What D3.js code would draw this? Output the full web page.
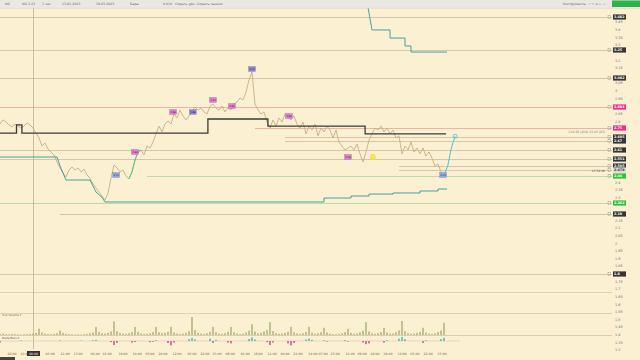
<!DOCTYPE html>
<html>
<head>
<meta charset="utf-8">
<script src="https://cdn.jsdelivr.net/npm/d3@7"></script>
<style>
body{margin:0;background:#fcf0d2;overflow:hidden;}
svg{display:block;font-family:"DejaVu Sans",sans-serif;}
</style>
</head>
<body>
<svg id="chart" width="640" height="360"></svg>
<script>
// closes, one per bar (bar index 0..148)
var closes = [2.780,2.807,2.793,2.774,2.761,2.780,2.767,2.754,2.767,2.787,2.774,2.754,2.721,2.689,2.636,2.656,2.616,2.597,2.577,2.531,
  2.492,2.459,2.433,2.479,2.498,2.479,2.492,2.466,2.485,2.446,2.426,2.387,2.361,2.334,2.308,2.282,2.328,2.426,2.511,2.492,
  2.466,2.479,2.439,2.420,2.466,2.544,2.597,2.610,2.577,2.636,2.623,2.662,2.715,2.767,2.728,2.780,2.800,2.780,2.846,2.820,
  2.872,2.833,2.807,2.833,2.859,2.892,2.872,2.885,2.859,2.846,2.898,2.911,2.885,2.872,2.898,2.859,2.885,2.872,2.911,2.925,
  2.951,2.938,2.990,3.069,3.121,2.911,2.872,2.846,2.859,2.793,2.754,2.807,2.767,2.820,2.793,2.846,2.826,2.807,2.833,2.780,
  2.754,2.793,2.715,2.767,2.741,2.780,2.702,2.754,2.728,2.767,2.741,2.689,2.741,2.662,2.636,2.610,2.623,2.636,2.610,2.649,
  2.584,2.531,2.597,2.675,2.715,2.754,2.741,2.767,2.728,2.754,2.715,2.741,2.689,2.702,2.584,2.636,2.610,2.662,2.597,2.623,
  2.584,2.623,2.570,2.597,2.557,2.505,2.518,2.466,2.446];

var volume = [6,8,5,4,6,5,4,3,4,5,6,8,12,35,14,8,6,5,7,10,25,12,7,5,4,3,4,3,4,6,9,14,45,18,10,8,12,20,75,22,12,8,7,10,16,45,
  18,9,6,7,10,17,45,15,10,12,18,45,14,8,6,8,12,22,100,28,12,8,6,10,18,45,16,8,7,10,18,45,15,9,6,8,14,24,60,20,10,12,20,28,72,
  22,10,7,8,12,18,45,16,9,7,10,17,45,14,8,10,16,40,14,8,5,4,6,9,16,35,12,7,9,15,24,72,20,9,7,10,16,40,14,8,9,16,26,78,22,10,
  7,8,12,17,40,14,8,7,10,18,26,68];

var deltaIdx = [0,7,20,27,31,32,37,38,39,44,45,50,51,52,56,57,58,63,64,65,70,71,72,76,77,83,84,85,89,90,91,96,97,98,102,103,104,108,109,115,116,121,122,123,128,129,133,134,135,141,142,147,148];
var deltaVal = [-8,3,3,2,4,6,-6,-20,-10,-8,-5,-6,-4,4,-10,-22,-8,10,16,8,12,-10,6,-8,-12,10,18,8,-6,-20,-8,-12,-22,-10,8,12,6,4,-3,5,-3,-8,-16,-12,-8,4,12,20,10,-10,4,10,16];

// trailing stop lines
var blackIdx = [0,5.5,5.5,7.3,7.3,69.3,69.3,89.3,89.3,121.7,121.7,148.7];
var blackVal = [2.721,2.721,2.774,2.774,2.721,2.721,2.813,2.813,2.767,2.767,2.715,2.715];
var lowIdx = [0,19,20,21,22,30,31,32,34,35,108,108,117,117,123,123,131,131,140,140,146,146,149];
var lowVal = [2.564,2.564,2.505,2.459,2.413,2.413,2.374,2.334,2.30,2.269,2.269,2.295,2.295,2.308,2.308,2.321,2.321,2.328,2.328,2.341,2.341,2.354,2.354];
var upIdx = [122,124,130,130,135,135,137,137,149];
var upVal = [3.62,3.397,3.397,3.344,3.344,3.292,3.292,3.252,3.252];
var projIdx = [148,149.3,150.3,151,151.7];
var projVal = [2.446,2.51,2.61,2.66,2.70];
var riseIdx = [43,44,45,46,47];

// horizontal levels
var levelVal  = [3.482,3.266,3.082,2.892,2.754,2.695,2.669,2.610,2.551,2.505,2.479,2.440,2.262,2.190,1.800,1.680,1.540,1.400];
var levelFrom = [0,0,0,0,85,95,95,0,0,133,133,49,0,20,0,0,0,0];
var levelKind = ["dark","dark","dark","pink","pink","dark","dark","dark","dark","dark","light","green","green","dark","dark","none","none","none"];
var levelText = ["3.482","3.25","3.082","2.893","2.75","2.695","2.67","2.61","2.551","2.505","2.479","2.44","2.262","2.19","1.8","","",""];

// signal markers
var markIdx  = [38.7,45,57.7,64.3,71,77.3,84,96.3,116,147.7];
var markVal  = [2.446,2.597,2.859,2.859,2.938,2.898,3.141,2.833,2.564,2.446];
var markKind = ["blue","pink","pink","violet","pink","pink","violet","pink","pink","blue"];
var markText = ["2.44","2.60","2.86","2.86","2.94","2.90","3.14","2.83","2.56","2.44"];

var priceTicks = [3.55,3.5,3.45,3.4,3.35,3.3,3.25,3.2,3.15,3.1,3.05,3,2.95,2.9,2.85,2.8,2.75,2.7,2.65,2.6,2.55,2.5,2.45,2.4,2.35,2.3,2.25,2.2,2.15,2.1,2.05,2,1.95,1.9,1.85,1.8,1.75,1.7,1.65,1.6,1.55,1.5,1.45,1.4,1.35,1.3];

var timeIdx = [4,8.3,16.7,21.7,26,31.7,35.7,41,45.7,50,54.3,59,64,68.3,72.3,76.7,81.7,86,90.7,95,99.3,104.3,107.7,111.7,116.7,120.7,125,129.3,134,138.3,142.7,147.3];
var timeText = ["02:00","16:00","05:00","21:00","13:00","06:00","01:00","19:00","10:00","03:00","20:00","12:00","05:00","22:00","15:00","08:00","01:00","18:00","11:00","04:00","21:00","14:00","07:00","23:00","16:00","09:00","02:00","19:00","12:00","05:00","22:00","15:00"];

var toolText = ["NG","NG-3.23","1 час","13.01.2023","19.03.2023","Бары","0.010","Скрыть уро...","Скрыть панели"];

var svg = d3.select("#chart");
var W = 640, H = 360, plotR = 612;

var x = d3.scaleLinear().domain([0,204]).range([0,plotR]);
var y = d3.scaleLinear().domain([1.3,3.55]).range([349.75,6.625]);
var vy = d3.scaleLinear().domain([0,100]).range([335,317]);
var dy = d3.scaleLinear().domain([-25,25]).range([346,336]);

svg.append("rect").attr("width",W).attr("height",H).attr("fill","#fcf0d2");

svg.append("defs").append("clipPath").attr("id","plot")
  .append("rect").attr("x",0).attr("y",8).attr("width",plotR).attr("height",341);
var g = svg.append("g").attr("clip-path","url(#plot)");

var lineColor = {dark:"#cbbd9e",pink:"#e7a59a",green:"#a9d79a",light:"#cbbd9e",none:"#d8cba8"};
var boxColor = {dark:"#353535",pink:"#ec2f8a",green:"#2ec236",light:"#d9d9d9"};

// levels
g.selectAll(".lvl").data(levelVal).enter().append("line")
  .attr("x1",function(d,i){return x(levelFrom[i]);})
  .attr("x2",plotR)
  .attr("y1",function(d){return Math.round(y(d))+0.5;})
  .attr("y2",function(d){return Math.round(y(d))+0.5;})
  .attr("stroke",function(d,i){return lineColor[levelKind[i]];})
  .attr("stroke-width",0.8);

// crosshair
g.append("line").attr("x1",33.5).attr("x2",33.5).attr("y1",8).attr("y2",350)
  .attr("stroke","#b9ab8c").attr("stroke-width",0.7);

// volume
g.selectAll(".vol").data(volume).enter().append("rect")
  .attr("x",function(d,i){return x(i)-0.6;})
  .attr("y",function(d){return vy(d);})
  .attr("width",1.2)
  .attr("height",function(d){return vy(0)-vy(d);})
  .attr("fill","#9ba56c");
svg.append("text").attr("x",2).attr("y",316).attr("font-size",2.8).attr("fill","#555").text("Tick Volume 7");
svg.append("line").attr("x1",0).attr("x2",plotR).attr("y1",335.5).attr("y2",335.5).attr("stroke","#d8cba8").attr("stroke-width",0.6);
svg.append("text").attr("x",2).attr("y",339).attr("font-size",2.8).attr("fill","#555").text("Delta Bars 2");

// delta
g.append("line").attr("x1",0).attr("x2",460).attr("y1",dy(0)).attr("y2",dy(0)).attr("stroke","#c9c0b0").attr("stroke-width",0.5);
g.selectAll(".dl").data(deltaVal).enter().append("rect")
  .attr("x",function(d,i){return x(deltaIdx[i])-0.7;})
  .attr("y",function(d){return Math.min(dy(d),dy(0));})
  .attr("width",1.4)
  .attr("height",function(d){return Math.abs(dy(d)-dy(0));})
  .attr("fill",function(d){return d>0?"#3db7b9":"#d2409a";});

// price line
var line = d3.line().x(function(d){return x(d[0]);}).y(function(d){return y(d[1]);});
var pts = closes.map(function(c,i){return [i,c];});
g.append("path").attr("d",line(pts)).attr("fill","none").attr("stroke","#c2b183").attr("stroke-width",0.9);
g.append("path").attr("d",line(riseIdx.map(function(i){return [i,closes[i]];})))
  .attr("fill","none").attr("stroke","#53c58f").attr("stroke-width",1);

function pairs(a,b){return a.map(function(v,i){return [v,b[i]];});}
g.append("path").attr("d",line(pairs(blackIdx,blackVal))).attr("fill","none").attr("stroke","#3a3a3a").attr("stroke-width",1.3);
g.append("path").attr("d",line(pairs(lowIdx,lowVal))).attr("fill","none").attr("stroke","#2f9b9a").attr("stroke-width",0.9);
g.append("path").attr("d",line(pairs(upIdx,upVal))).attr("fill","none").attr("stroke","#2f9b9a").attr("stroke-width",0.9);
g.append("path").attr("d",line(pairs(projIdx,projVal))).attr("fill","none").attr("stroke","#45c6d6").attr("stroke-width",1);
g.append("circle").attr("cx",x(projIdx[4])).attr("cy",y(projVal[4])).attr("r",2).attr("fill","none").attr("stroke","#45c6d6").attr("stroke-width",0.8);

// cursor highlight
g.append("circle").attr("cx",x(124.3)).attr("cy",y(2.564)).attr("r",3).attr("fill","#f4e23c").attr("opacity",0.85);

// markers
var markFill = {blue:"#86aee0",pink:"#e77ccb",violet:"#8f86d6"};
var mk = g.selectAll(".mk").data(markVal).enter().append("g")
  .attr("transform",function(d,i){return "translate("+x(markIdx[i])+","+y(d)+")";});
mk.append("rect").attr("x",-3.5).attr("y",-2.5).attr("width",7).attr("height",5)
  .attr("fill",function(d,i){return markFill[markKind[i]];}).attr("stroke","#7a6aa8").attr("stroke-width",0.3);
mk.append("text").attr("text-anchor","middle").attr("y",1).attr("font-size",2.4).attr("fill","#222")
  .text(function(d,i){return markText[i];});

// right price axis: skip ticks hidden behind level boxes
var boxed = levelVal.filter(function(d,i){return levelText[i]!=="";});
var freeTicks = priceTicks.filter(function(t){
  return boxed.every(function(b){return Math.abs(y(t)-y(b))>4.2;});
});
var ax = svg.append("g").attr("transform","translate(614,0)")
  .call(d3.axisRight(y).tickValues(freeTicks).tickSize(0).tickPadding(1).tickFormat(d3.format("~g")));
ax.select(".domain").remove();
ax.selectAll("text").attr("font-size",3.4).attr("fill","#6b6b6b").attr("font-family","DejaVu Sans");

var bx = svg.selectAll(".bx").data(boxed).enter().append("g")
  .attr("transform",function(d){return "translate(613,"+Math.round(y(d))+")";});
var boxedKind = levelKind.filter(function(k,i){return levelText[i]!=="";});
var boxedText = levelText.filter(function(t){return t!=="";});
bx.append("rect").attr("x",0).attr("y",-2.6).attr("width",13).attr("height",5.2)
  .attr("fill",function(d,i){return boxColor[boxedKind[i]];});
bx.append("text").attr("x",1).attr("y",1.3).attr("font-size",3.3).attr("font-weight","bold")
  .attr("fill",function(d,i){return boxedKind[i]==="light"?"#333":"#fff";})
  .text(function(d,i){return boxedText[i];});
bx.append("rect").attr("x",-5).attr("y",-1.3).attr("width",2.6).attr("height",2.6)
  .attr("fill","none").attr("stroke","#8a8a8a").attr("stroke-width",0.4);

svg.append("text").attr("x",605).attr("y",133).attr("text-anchor","end").attr("font-size",3).attr("fill","#777").text("Cnd 05 (2nd) 15:45 (07)");
svg.append("text").attr("x",605).attr("y",171.5).attr("text-anchor","end").attr("font-size",3).attr("fill","#555").text("15:59:46");

// time axis
svg.selectAll(".tt").data(timeText).enter().append("text")
  .attr("x",function(d,i){return x(timeIdx[i]);}).attr("y",354.5)
  .attr("text-anchor","middle").attr("font-size",3.2).attr("fill","#6b6b6b").text(function(d){return d;});
svg.append("rect").attr("x",27).attr("y",351).attr("width",13).attr("height",5).attr("fill","#333");
svg.append("text").attr("x",33.5).attr("y",354.6).attr("text-anchor","middle").attr("font-size",3).attr("fill","#fff").text("00:00");
svg.append("rect").attr("x",0).attr("y",357).attr("width",15).attr("height",3).attr("fill","#444");

// toolbar
svg.append("rect").attr("width",W).attr("height",8).attr("fill","#e9e8e6");
svg.append("line").attr("x1",0).attr("x2",W).attr("y1",8.3).attr("y2",8.3).attr("stroke","#d4d0c8").attr("stroke-width",0.6);
var toolX = [5,22,42,62,96,130,163,175,197];
svg.selectAll(".tb").data(toolText).enter().append("text")
  .attr("x",function(d,i){return toolX[i];}).attr("y",5.2).attr("font-size",3.2).attr("fill","#666").text(function(d){return d;});
svg.append("text").attr("x",563).attr("y",5.2).attr("font-size",3.2).attr("fill","#666").text("Инструменты");
svg.append("text").attr("x",588).attr("y",5.2).attr("font-size",3.2).attr("fill","#888").text("↗  ⇱  ⇲  ←  →");
svg.append("rect").attr("x",612).attr("y",0.5).attr("width",28).attr("height",6.5).attr("fill","#2fb24a");
</script>
</body>
</html>
